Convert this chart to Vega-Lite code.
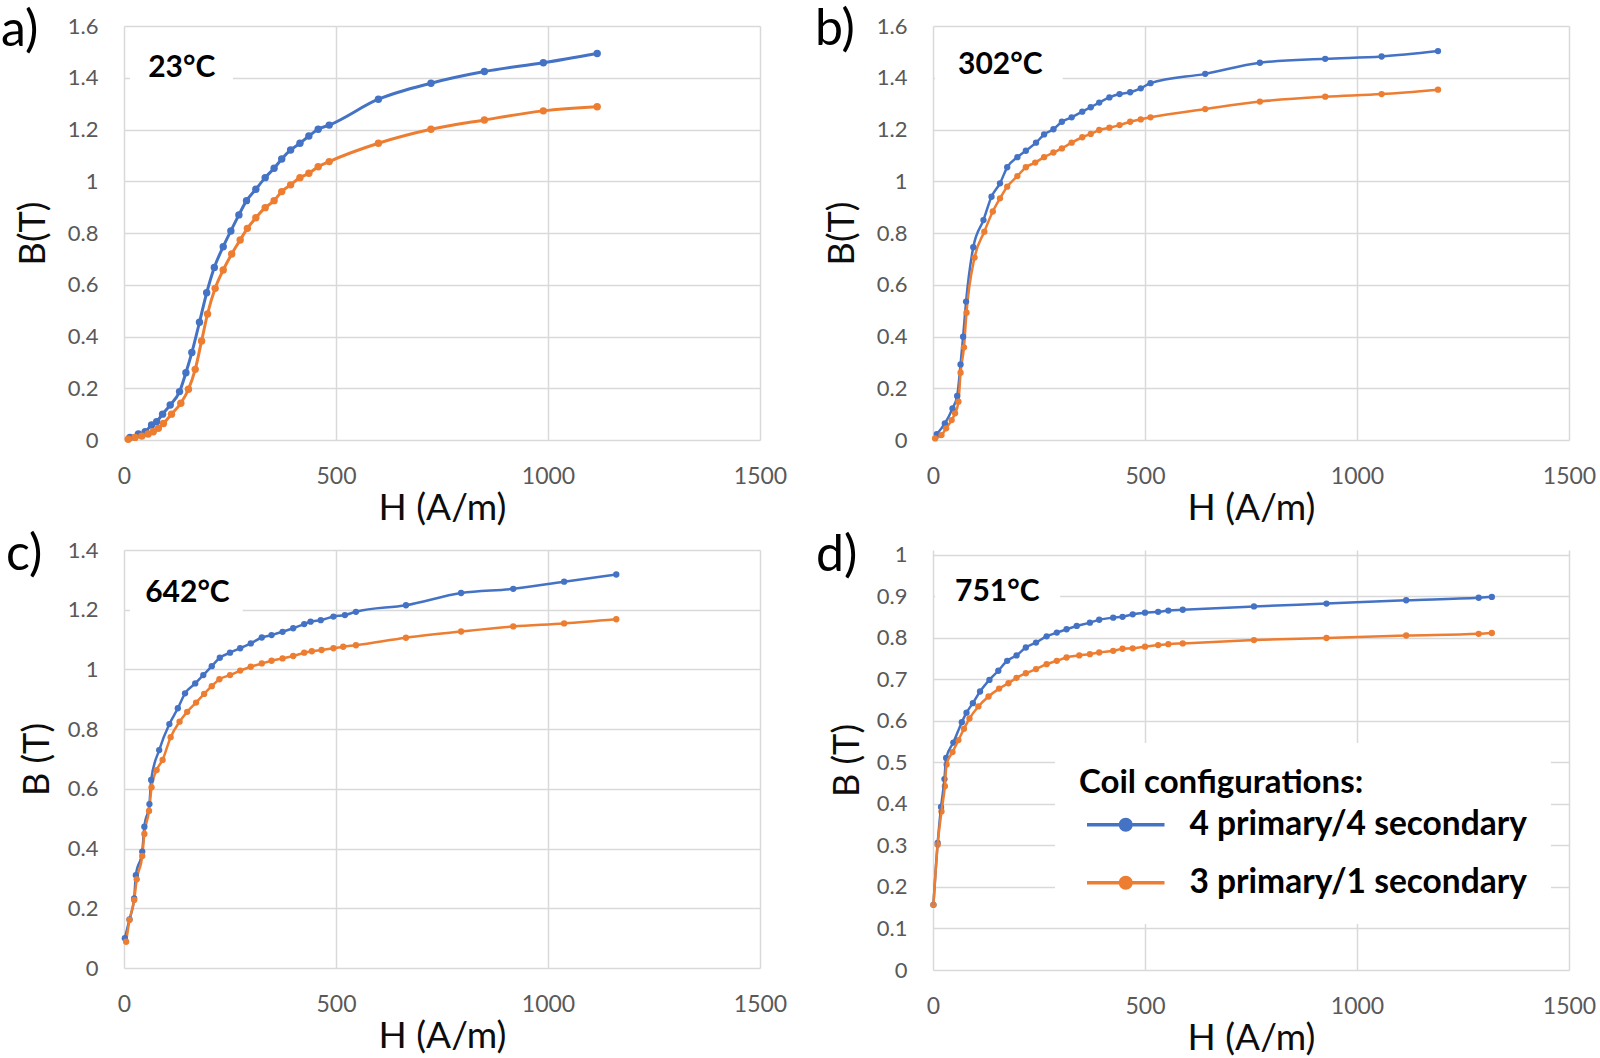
{
  "$schema": "https://vega.github.io/schema/vega-lite/v6.json",
  "autosize": {"type": "none"},
  "padding": {"left": 124, "top": 26, "right": 1476, "bottom": 1032},
  "background": "white",
  "bounds": "flush",
  "columns": 2,
  "spacing": {"row": 110, "column": 173},
  "resolve": {"legend": {"color": "independent"}},
  "datasets": {
    "bh": [
      {"panel": "a", "coil": "4 primary/4 secondary", "H": 14, "B": 0.01},
      {"panel": "a", "coil": "4 primary/4 secondary", "H": 34, "B": 0.023},
      {"panel": "a", "coil": "4 primary/4 secondary", "H": 50, "B": 0.032},
      {"panel": "a", "coil": "4 primary/4 secondary", "H": 65, "B": 0.058},
      {"panel": "a", "coil": "4 primary/4 secondary", "H": 77, "B": 0.071},
      {"panel": "a", "coil": "4 primary/4 secondary", "H": 91, "B": 0.1},
      {"panel": "a", "coil": "4 primary/4 secondary", "H": 109, "B": 0.135},
      {"panel": "a", "coil": "4 primary/4 secondary", "H": 131, "B": 0.187},
      {"panel": "a", "coil": "4 primary/4 secondary", "H": 146, "B": 0.26},
      {"panel": "a", "coil": "4 primary/4 secondary", "H": 160, "B": 0.338},
      {"panel": "a", "coil": "4 primary/4 secondary", "H": 178, "B": 0.455},
      {"panel": "a", "coil": "4 primary/4 secondary", "H": 195, "B": 0.569},
      {"panel": "a", "coil": "4 primary/4 secondary", "H": 213, "B": 0.667},
      {"panel": "a", "coil": "4 primary/4 secondary", "H": 234, "B": 0.747},
      {"panel": "a", "coil": "4 primary/4 secondary", "H": 252, "B": 0.808},
      {"panel": "a", "coil": "4 primary/4 secondary", "H": 271, "B": 0.87},
      {"panel": "a", "coil": "4 primary/4 secondary", "H": 289, "B": 0.925},
      {"panel": "a", "coil": "4 primary/4 secondary", "H": 311, "B": 0.969},
      {"panel": "a", "coil": "4 primary/4 secondary", "H": 333, "B": 1.014},
      {"panel": "a", "coil": "4 primary/4 secondary", "H": 354, "B": 1.05},
      {"panel": "a", "coil": "4 primary/4 secondary", "H": 372, "B": 1.086},
      {"panel": "a", "coil": "4 primary/4 secondary", "H": 393, "B": 1.121},
      {"panel": "a", "coil": "4 primary/4 secondary", "H": 415, "B": 1.147},
      {"panel": "a", "coil": "4 primary/4 secondary", "H": 436, "B": 1.175},
      {"panel": "a", "coil": "4 primary/4 secondary", "H": 458, "B": 1.201},
      {"panel": "a", "coil": "4 primary/4 secondary", "H": 484, "B": 1.217},
      {"panel": "a", "coil": "4 primary/4 secondary", "H": 600, "B": 1.317},
      {"panel": "a", "coil": "4 primary/4 secondary", "H": 724, "B": 1.379},
      {"panel": "a", "coil": "4 primary/4 secondary", "H": 850, "B": 1.424},
      {"panel": "a", "coil": "4 primary/4 secondary", "H": 989, "B": 1.458},
      {"panel": "a", "coil": "4 primary/4 secondary", "H": 1116, "B": 1.494},
      {"panel": "a", "coil": "3 primary/1 secondary", "H": 10, "B": 0.003},
      {"panel": "a", "coil": "3 primary/1 secondary", "H": 26, "B": 0.01},
      {"panel": "a", "coil": "3 primary/1 secondary", "H": 42, "B": 0.015},
      {"panel": "a", "coil": "3 primary/1 secondary", "H": 57, "B": 0.023},
      {"panel": "a", "coil": "3 primary/1 secondary", "H": 69, "B": 0.032},
      {"panel": "a", "coil": "3 primary/1 secondary", "H": 81, "B": 0.045},
      {"panel": "a", "coil": "3 primary/1 secondary", "H": 93, "B": 0.064},
      {"panel": "a", "coil": "3 primary/1 secondary", "H": 112, "B": 0.1},
      {"panel": "a", "coil": "3 primary/1 secondary", "H": 134, "B": 0.142},
      {"panel": "a", "coil": "3 primary/1 secondary", "H": 152, "B": 0.196},
      {"panel": "a", "coil": "3 primary/1 secondary", "H": 168, "B": 0.273},
      {"panel": "a", "coil": "3 primary/1 secondary", "H": 183, "B": 0.383},
      {"panel": "a", "coil": "3 primary/1 secondary", "H": 197, "B": 0.487},
      {"panel": "a", "coil": "3 primary/1 secondary", "H": 215, "B": 0.586},
      {"panel": "a", "coil": "3 primary/1 secondary", "H": 234, "B": 0.657},
      {"panel": "a", "coil": "3 primary/1 secondary", "H": 254, "B": 0.719},
      {"panel": "a", "coil": "3 primary/1 secondary", "H": 274, "B": 0.773},
      {"panel": "a", "coil": "3 primary/1 secondary", "H": 291, "B": 0.818},
      {"panel": "a", "coil": "3 primary/1 secondary", "H": 311, "B": 0.859},
      {"panel": "a", "coil": "3 primary/1 secondary", "H": 333, "B": 0.898},
      {"panel": "a", "coil": "3 primary/1 secondary", "H": 354, "B": 0.925},
      {"panel": "a", "coil": "3 primary/1 secondary", "H": 372, "B": 0.96},
      {"panel": "a", "coil": "3 primary/1 secondary", "H": 393, "B": 0.986},
      {"panel": "a", "coil": "3 primary/1 secondary", "H": 415, "B": 1.014},
      {"panel": "a", "coil": "3 primary/1 secondary", "H": 436, "B": 1.031},
      {"panel": "a", "coil": "3 primary/1 secondary", "H": 458, "B": 1.056},
      {"panel": "a", "coil": "3 primary/1 secondary", "H": 484, "B": 1.076},
      {"panel": "a", "coil": "3 primary/1 secondary", "H": 600, "B": 1.147},
      {"panel": "a", "coil": "3 primary/1 secondary", "H": 724, "B": 1.201},
      {"panel": "a", "coil": "3 primary/1 secondary", "H": 850, "B": 1.237},
      {"panel": "a", "coil": "3 primary/1 secondary", "H": 989, "B": 1.272},
      {"panel": "a", "coil": "3 primary/1 secondary", "H": 1116, "B": 1.288},

      {"panel": "b", "coil": "4 primary/4 secondary", "H": 9, "B": 0.023},
      {"panel": "b", "coil": "4 primary/4 secondary", "H": 28, "B": 0.064},
      {"panel": "b", "coil": "4 primary/4 secondary", "H": 46, "B": 0.122},
      {"panel": "b", "coil": "4 primary/4 secondary", "H": 57, "B": 0.17},
      {"panel": "b", "coil": "4 primary/4 secondary", "H": 65, "B": 0.292},
      {"panel": "b", "coil": "4 primary/4 secondary", "H": 71, "B": 0.399},
      {"panel": "b", "coil": "4 primary/4 secondary", "H": 78, "B": 0.535},
      {"panel": "b", "coil": "4 primary/4 secondary", "H": 95, "B": 0.745},
      {"panel": "b", "coil": "4 primary/4 secondary", "H": 119, "B": 0.85},
      {"panel": "b", "coil": "4 primary/4 secondary", "H": 138, "B": 0.94},
      {"panel": "b", "coil": "4 primary/4 secondary", "H": 158, "B": 0.992},
      {"panel": "b", "coil": "4 primary/4 secondary", "H": 175, "B": 1.054},
      {"panel": "b", "coil": "4 primary/4 secondary", "H": 199, "B": 1.093},
      {"panel": "b", "coil": "4 primary/4 secondary", "H": 219, "B": 1.118},
      {"panel": "b", "coil": "4 primary/4 secondary", "H": 243, "B": 1.149},
      {"panel": "b", "coil": "4 primary/4 secondary", "H": 262, "B": 1.181},
      {"panel": "b", "coil": "4 primary/4 secondary", "H": 284, "B": 1.201},
      {"panel": "b", "coil": "4 primary/4 secondary", "H": 304, "B": 1.23},
      {"panel": "b", "coil": "4 primary/4 secondary", "H": 327, "B": 1.247},
      {"panel": "b", "coil": "4 primary/4 secondary", "H": 352, "B": 1.269},
      {"panel": "b", "coil": "4 primary/4 secondary", "H": 372, "B": 1.286},
      {"panel": "b", "coil": "4 primary/4 secondary", "H": 392, "B": 1.304},
      {"panel": "b", "coil": "4 primary/4 secondary", "H": 416, "B": 1.324},
      {"panel": "b", "coil": "4 primary/4 secondary", "H": 440, "B": 1.337},
      {"panel": "b", "coil": "4 primary/4 secondary", "H": 465, "B": 1.344},
      {"panel": "b", "coil": "4 primary/4 secondary", "H": 490, "B": 1.359},
      {"panel": "b", "coil": "4 primary/4 secondary", "H": 513, "B": 1.379},
      {"panel": "b", "coil": "4 primary/4 secondary", "H": 642, "B": 1.415},
      {"panel": "b", "coil": "4 primary/4 secondary", "H": 771, "B": 1.458},
      {"panel": "b", "coil": "4 primary/4 secondary", "H": 925, "B": 1.473},
      {"panel": "b", "coil": "4 primary/4 secondary", "H": 1058, "B": 1.482},
      {"panel": "b", "coil": "4 primary/4 secondary", "H": 1191, "B": 1.503},
      {"panel": "b", "coil": "3 primary/1 secondary", "H": 5, "B": 0.006},
      {"panel": "b", "coil": "3 primary/1 secondary", "H": 20, "B": 0.019},
      {"panel": "b", "coil": "3 primary/1 secondary", "H": 31, "B": 0.045},
      {"panel": "b", "coil": "3 primary/1 secondary", "H": 44, "B": 0.077},
      {"panel": "b", "coil": "3 primary/1 secondary", "H": 52, "B": 0.103},
      {"panel": "b", "coil": "3 primary/1 secondary", "H": 60, "B": 0.148},
      {"panel": "b", "coil": "3 primary/1 secondary", "H": 65, "B": 0.26},
      {"panel": "b", "coil": "3 primary/1 secondary", "H": 73, "B": 0.358},
      {"panel": "b", "coil": "3 primary/1 secondary", "H": 79, "B": 0.492},
      {"panel": "b", "coil": "3 primary/1 secondary", "H": 98, "B": 0.705},
      {"panel": "b", "coil": "3 primary/1 secondary", "H": 121, "B": 0.805},
      {"panel": "b", "coil": "3 primary/1 secondary", "H": 141, "B": 0.883},
      {"panel": "b", "coil": "3 primary/1 secondary", "H": 158, "B": 0.934},
      {"panel": "b", "coil": "3 primary/1 secondary", "H": 175, "B": 0.979},
      {"panel": "b", "coil": "3 primary/1 secondary", "H": 199, "B": 1.02},
      {"panel": "b", "coil": "3 primary/1 secondary", "H": 219, "B": 1.054},
      {"panel": "b", "coil": "3 primary/1 secondary", "H": 241, "B": 1.072},
      {"panel": "b", "coil": "3 primary/1 secondary", "H": 262, "B": 1.093},
      {"panel": "b", "coil": "3 primary/1 secondary", "H": 284, "B": 1.111},
      {"panel": "b", "coil": "3 primary/1 secondary", "H": 304, "B": 1.127},
      {"panel": "b", "coil": "3 primary/1 secondary", "H": 327, "B": 1.149},
      {"panel": "b", "coil": "3 primary/1 secondary", "H": 352, "B": 1.17},
      {"panel": "b", "coil": "3 primary/1 secondary", "H": 372, "B": 1.183},
      {"panel": "b", "coil": "3 primary/1 secondary", "H": 392, "B": 1.198},
      {"panel": "b", "coil": "3 primary/1 secondary", "H": 416, "B": 1.207},
      {"panel": "b", "coil": "3 primary/1 secondary", "H": 440, "B": 1.217},
      {"panel": "b", "coil": "3 primary/1 secondary", "H": 465, "B": 1.23},
      {"panel": "b", "coil": "3 primary/1 secondary", "H": 490, "B": 1.239},
      {"panel": "b", "coil": "3 primary/1 secondary", "H": 513, "B": 1.247},
      {"panel": "b", "coil": "3 primary/1 secondary", "H": 642, "B": 1.279},
      {"panel": "b", "coil": "3 primary/1 secondary", "H": 771, "B": 1.308},
      {"panel": "b", "coil": "3 primary/1 secondary", "H": 925, "B": 1.327},
      {"panel": "b", "coil": "3 primary/1 secondary", "H": 1058, "B": 1.337},
      {"panel": "b", "coil": "3 primary/1 secondary", "H": 1191, "B": 1.354},

      {"panel": "c", "coil": "4 primary/4 secondary", "H": 2, "B": 0.1},
      {"panel": "c", "coil": "4 primary/4 secondary", "H": 13, "B": 0.163},
      {"panel": "c", "coil": "4 primary/4 secondary", "H": 24, "B": 0.233},
      {"panel": "c", "coil": "4 primary/4 secondary", "H": 28, "B": 0.311},
      {"panel": "c", "coil": "4 primary/4 secondary", "H": 43, "B": 0.39},
      {"panel": "c", "coil": "4 primary/4 secondary", "H": 48, "B": 0.473},
      {"panel": "c", "coil": "4 primary/4 secondary", "H": 60, "B": 0.549},
      {"panel": "c", "coil": "4 primary/4 secondary", "H": 64, "B": 0.63},
      {"panel": "c", "coil": "4 primary/4 secondary", "H": 83, "B": 0.73},
      {"panel": "c", "coil": "4 primary/4 secondary", "H": 107, "B": 0.817},
      {"panel": "c", "coil": "4 primary/4 secondary", "H": 127, "B": 0.87},
      {"panel": "c", "coil": "4 primary/4 secondary", "H": 144, "B": 0.92},
      {"panel": "c", "coil": "4 primary/4 secondary", "H": 168, "B": 0.953},
      {"panel": "c", "coil": "4 primary/4 secondary", "H": 187, "B": 0.981},
      {"panel": "c", "coil": "4 primary/4 secondary", "H": 207, "B": 1.011},
      {"panel": "c", "coil": "4 primary/4 secondary", "H": 226, "B": 1.039},
      {"panel": "c", "coil": "4 primary/4 secondary", "H": 250, "B": 1.056},
      {"panel": "c", "coil": "4 primary/4 secondary", "H": 274, "B": 1.071},
      {"panel": "c", "coil": "4 primary/4 secondary", "H": 299, "B": 1.087},
      {"panel": "c", "coil": "4 primary/4 secondary", "H": 325, "B": 1.107},
      {"panel": "c", "coil": "4 primary/4 secondary", "H": 348, "B": 1.115},
      {"panel": "c", "coil": "4 primary/4 secondary", "H": 374, "B": 1.126},
      {"panel": "c", "coil": "4 primary/4 secondary", "H": 399, "B": 1.138},
      {"panel": "c", "coil": "4 primary/4 secondary", "H": 425, "B": 1.152},
      {"panel": "c", "coil": "4 primary/4 secondary", "H": 440, "B": 1.16},
      {"panel": "c", "coil": "4 primary/4 secondary", "H": 464, "B": 1.165},
      {"panel": "c", "coil": "4 primary/4 secondary", "H": 494, "B": 1.177},
      {"panel": "c", "coil": "4 primary/4 secondary", "H": 521, "B": 1.182},
      {"panel": "c", "coil": "4 primary/4 secondary", "H": 547, "B": 1.193},
      {"panel": "c", "coil": "4 primary/4 secondary", "H": 665, "B": 1.215},
      {"panel": "c", "coil": "4 primary/4 secondary", "H": 795, "B": 1.256},
      {"panel": "c", "coil": "4 primary/4 secondary", "H": 918, "B": 1.27},
      {"panel": "c", "coil": "4 primary/4 secondary", "H": 1038, "B": 1.294},
      {"panel": "c", "coil": "4 primary/4 secondary", "H": 1161, "B": 1.318},
      {"panel": "c", "coil": "3 primary/1 secondary", "H": 5, "B": 0.088},
      {"panel": "c", "coil": "3 primary/1 secondary", "H": 13, "B": 0.161},
      {"panel": "c", "coil": "3 primary/1 secondary", "H": 24, "B": 0.228},
      {"panel": "c", "coil": "3 primary/1 secondary", "H": 30, "B": 0.297},
      {"panel": "c", "coil": "3 primary/1 secondary", "H": 43, "B": 0.375},
      {"panel": "c", "coil": "3 primary/1 secondary", "H": 48, "B": 0.449},
      {"panel": "c", "coil": "3 primary/1 secondary", "H": 59, "B": 0.526},
      {"panel": "c", "coil": "3 primary/1 secondary", "H": 65, "B": 0.605},
      {"panel": "c", "coil": "3 primary/1 secondary", "H": 77, "B": 0.663},
      {"panel": "c", "coil": "3 primary/1 secondary", "H": 91, "B": 0.697},
      {"panel": "c", "coil": "3 primary/1 secondary", "H": 110, "B": 0.773},
      {"panel": "c", "coil": "3 primary/1 secondary", "H": 131, "B": 0.825},
      {"panel": "c", "coil": "3 primary/1 secondary", "H": 149, "B": 0.858},
      {"panel": "c", "coil": "3 primary/1 secondary", "H": 170, "B": 0.889},
      {"panel": "c", "coil": "3 primary/1 secondary", "H": 189, "B": 0.918},
      {"panel": "c", "coil": "3 primary/1 secondary", "H": 207, "B": 0.944},
      {"panel": "c", "coil": "3 primary/1 secondary", "H": 225, "B": 0.967},
      {"panel": "c", "coil": "3 primary/1 secondary", "H": 250, "B": 0.981},
      {"panel": "c", "coil": "3 primary/1 secondary", "H": 274, "B": 0.996},
      {"panel": "c", "coil": "3 primary/1 secondary", "H": 299, "B": 1.009},
      {"panel": "c", "coil": "3 primary/1 secondary", "H": 325, "B": 1.02},
      {"panel": "c", "coil": "3 primary/1 secondary", "H": 348, "B": 1.029},
      {"panel": "c", "coil": "3 primary/1 secondary", "H": 374, "B": 1.037},
      {"panel": "c", "coil": "3 primary/1 secondary", "H": 399, "B": 1.045},
      {"panel": "c", "coil": "3 primary/1 secondary", "H": 425, "B": 1.056},
      {"panel": "c", "coil": "3 primary/1 secondary", "H": 443, "B": 1.061},
      {"panel": "c", "coil": "3 primary/1 secondary", "H": 466, "B": 1.065},
      {"panel": "c", "coil": "3 primary/1 secondary", "H": 494, "B": 1.071},
      {"panel": "c", "coil": "3 primary/1 secondary", "H": 517, "B": 1.076},
      {"panel": "c", "coil": "3 primary/1 secondary", "H": 547, "B": 1.081},
      {"panel": "c", "coil": "3 primary/1 secondary", "H": 665, "B": 1.106},
      {"panel": "c", "coil": "3 primary/1 secondary", "H": 795, "B": 1.127},
      {"panel": "c", "coil": "3 primary/1 secondary", "H": 918, "B": 1.144},
      {"panel": "c", "coil": "3 primary/1 secondary", "H": 1038, "B": 1.154},
      {"panel": "c", "coil": "3 primary/1 secondary", "H": 1161, "B": 1.168},

      {"panel": "d", "coil": "4 primary/4 secondary", "H": 1, "B": 0.157},
      {"panel": "d", "coil": "4 primary/4 secondary", "H": 11, "B": 0.306},
      {"panel": "d", "coil": "4 primary/4 secondary", "H": 19, "B": 0.393},
      {"panel": "d", "coil": "4 primary/4 secondary", "H": 27, "B": 0.46},
      {"panel": "d", "coil": "4 primary/4 secondary", "H": 31, "B": 0.511},
      {"panel": "d", "coil": "4 primary/4 secondary", "H": 48, "B": 0.548},
      {"panel": "d", "coil": "4 primary/4 secondary", "H": 68, "B": 0.597},
      {"panel": "d", "coil": "4 primary/4 secondary", "H": 79, "B": 0.62},
      {"panel": "d", "coil": "4 primary/4 secondary", "H": 94, "B": 0.643},
      {"panel": "d", "coil": "4 primary/4 secondary", "H": 111, "B": 0.671},
      {"panel": "d", "coil": "4 primary/4 secondary", "H": 133, "B": 0.699},
      {"panel": "d", "coil": "4 primary/4 secondary", "H": 154, "B": 0.721},
      {"panel": "d", "coil": "4 primary/4 secondary", "H": 175, "B": 0.745},
      {"panel": "d", "coil": "4 primary/4 secondary", "H": 197, "B": 0.758},
      {"panel": "d", "coil": "4 primary/4 secondary", "H": 219, "B": 0.777},
      {"panel": "d", "coil": "4 primary/4 secondary", "H": 243, "B": 0.789},
      {"panel": "d", "coil": "4 primary/4 secondary", "H": 268, "B": 0.804},
      {"panel": "d", "coil": "4 primary/4 secondary", "H": 292, "B": 0.813},
      {"panel": "d", "coil": "4 primary/4 secondary", "H": 315, "B": 0.821},
      {"panel": "d", "coil": "4 primary/4 secondary", "H": 339, "B": 0.829},
      {"panel": "d", "coil": "4 primary/4 secondary", "H": 370, "B": 0.837},
      {"panel": "d", "coil": "4 primary/4 secondary", "H": 392, "B": 0.844},
      {"panel": "d", "coil": "4 primary/4 secondary", "H": 425, "B": 0.849},
      {"panel": "d", "coil": "4 primary/4 secondary", "H": 447, "B": 0.851},
      {"panel": "d", "coil": "4 primary/4 secondary", "H": 471, "B": 0.857},
      {"panel": "d", "coil": "4 primary/4 secondary", "H": 500, "B": 0.861},
      {"panel": "d", "coil": "4 primary/4 secondary", "H": 531, "B": 0.863},
      {"panel": "d", "coil": "4 primary/4 secondary", "H": 555, "B": 0.866},
      {"panel": "d", "coil": "4 primary/4 secondary", "H": 589, "B": 0.868},
      {"panel": "d", "coil": "4 primary/4 secondary", "H": 757, "B": 0.876},
      {"panel": "d", "coil": "4 primary/4 secondary", "H": 928, "B": 0.883},
      {"panel": "d", "coil": "4 primary/4 secondary", "H": 1116, "B": 0.891},
      {"panel": "d", "coil": "4 primary/4 secondary", "H": 1287, "B": 0.897},
      {"panel": "d", "coil": "4 primary/4 secondary", "H": 1318, "B": 0.899},
      {"panel": "d", "coil": "3 primary/1 secondary", "H": 1, "B": 0.157},
      {"panel": "d", "coil": "3 primary/1 secondary", "H": 11, "B": 0.302},
      {"panel": "d", "coil": "3 primary/1 secondary", "H": 20, "B": 0.382},
      {"panel": "d", "coil": "3 primary/1 secondary", "H": 28, "B": 0.443},
      {"panel": "d", "coil": "3 primary/1 secondary", "H": 32, "B": 0.495},
      {"panel": "d", "coil": "3 primary/1 secondary", "H": 46, "B": 0.525},
      {"panel": "d", "coil": "3 primary/1 secondary", "H": 60, "B": 0.554},
      {"panel": "d", "coil": "3 primary/1 secondary", "H": 73, "B": 0.581},
      {"panel": "d", "coil": "3 primary/1 secondary", "H": 86, "B": 0.606},
      {"panel": "d", "coil": "3 primary/1 secondary", "H": 107, "B": 0.635},
      {"panel": "d", "coil": "3 primary/1 secondary", "H": 131, "B": 0.659},
      {"panel": "d", "coil": "3 primary/1 secondary", "H": 156, "B": 0.678},
      {"panel": "d", "coil": "3 primary/1 secondary", "H": 178, "B": 0.691},
      {"panel": "d", "coil": "3 primary/1 secondary", "H": 197, "B": 0.704},
      {"panel": "d", "coil": "3 primary/1 secondary", "H": 219, "B": 0.715},
      {"panel": "d", "coil": "3 primary/1 secondary", "H": 243, "B": 0.725},
      {"panel": "d", "coil": "3 primary/1 secondary", "H": 268, "B": 0.737},
      {"panel": "d", "coil": "3 primary/1 secondary", "H": 292, "B": 0.745},
      {"panel": "d", "coil": "3 primary/1 secondary", "H": 315, "B": 0.753},
      {"panel": "d", "coil": "3 primary/1 secondary", "H": 345, "B": 0.758},
      {"panel": "d", "coil": "3 primary/1 secondary", "H": 370, "B": 0.761},
      {"panel": "d", "coil": "3 primary/1 secondary", "H": 392, "B": 0.765},
      {"panel": "d", "coil": "3 primary/1 secondary", "H": 425, "B": 0.769},
      {"panel": "d", "coil": "3 primary/1 secondary", "H": 447, "B": 0.774},
      {"panel": "d", "coil": "3 primary/1 secondary", "H": 471, "B": 0.775},
      {"panel": "d", "coil": "3 primary/1 secondary", "H": 500, "B": 0.779},
      {"panel": "d", "coil": "3 primary/1 secondary", "H": 531, "B": 0.783},
      {"panel": "d", "coil": "3 primary/1 secondary", "H": 555, "B": 0.785},
      {"panel": "d", "coil": "3 primary/1 secondary", "H": 589, "B": 0.787},
      {"panel": "d", "coil": "3 primary/1 secondary", "H": 757, "B": 0.795},
      {"panel": "d", "coil": "3 primary/1 secondary", "H": 928, "B": 0.8},
      {"panel": "d", "coil": "3 primary/1 secondary", "H": 1116, "B": 0.806},
      {"panel": "d", "coil": "3 primary/1 secondary", "H": 1287, "B": 0.81},
      {"panel": "d", "coil": "3 primary/1 secondary", "H": 1318, "B": 0.812}
    ]
  },
  "concat": [
    {
      "width": 636,
      "height": 414,
      "title": {"text": "a)", "dx": -123, "dy": 45},
      "layer": [
        {
          "data": {"name": "bh"},
          "transform": [{"filter": "datum.panel === 'a'"}],
          "mark": {"type": "line", "strokeWidth": 3, "interpolate": "monotone"},
          "encoding": {
            "x": {"field": "H", "type": "quantitative", "scale": {"domain": [0, 1500], "nice": false}, "axis": {"title": "H (A/m)", "values": [0, 500, 1000, 1500], "format": "d"}},
            "y": {"field": "B", "type": "quantitative", "scale": {"domain": [0, 1.6], "nice": false}, "axis": {"title": "B(T)", "titlePadding": 15, "values": [0, 0.2, 0.4, 0.6, 0.8, 1, 1.2, 1.4, 1.6], "format": "~g"}},
            "color": {"field": "coil", "type": "nominal", "scale": {"domain": ["4 primary/4 secondary", "3 primary/1 secondary"], "range": ["#4472c4", "#ed7d31"]}, "legend": null}
          }
        },
        {
          "data": {"name": "bh"},
          "transform": [{"filter": "datum.panel === 'a'"}],
          "mark": {"type": "point", "filled": true, "size": 55, "opacity": 1},
          "encoding": {
            "x": {"field": "H", "type": "quantitative"},
            "y": {"field": "B", "type": "quantitative"},
            "color": {"field": "coil", "type": "nominal", "scale": {"domain": ["4 primary/4 secondary", "3 primary/1 secondary"], "range": ["#4472c4", "#ed7d31"]}, "legend": null}
          }
        },
        {
          "data": {"values": [{}]},
          "mark": {"type": "rect", "fill": "white"},
          "encoding": {
            "x": {"datum": 14, "type": "quantitative"},
            "x2": {"datum": 257},
            "y": {"datum": 1.33, "type": "quantitative"},
            "y2": {"datum": 1.52}
          }
        },
        {
          "data": {"values": [{}]},
          "mark": {"type": "text", "text": "23°C", "fontSize": 30, "fontWeight": "bold", "align": "left", "baseline": "alphabetic", "color": "#000000"},
          "encoding": {
            "x": {"datum": 57, "type": "quantitative"},
            "y": {"datum": 1.403, "type": "quantitative"}
          }
        }
      ]
    },
    {
      "width": 636,
      "height": 414,
      "title": {"text": "b)", "dx": -118, "dy": 44},
      "layer": [
        {
          "data": {"name": "bh"},
          "transform": [{"filter": "datum.panel === 'b'"}],
          "mark": {"type": "line", "strokeWidth": 2.5, "interpolate": "monotone"},
          "encoding": {
            "x": {"field": "H", "type": "quantitative", "scale": {"domain": [0, 1500], "nice": false}, "axis": {"title": "H (A/m)", "values": [0, 500, 1000, 1500], "format": "d"}},
            "y": {"field": "B", "type": "quantitative", "scale": {"domain": [0, 1.6], "nice": false}, "axis": {"title": "B(T)", "titlePadding": 15, "values": [0, 0.2, 0.4, 0.6, 0.8, 1, 1.2, 1.4, 1.6], "format": "~g"}},
            "color": {"field": "coil", "type": "nominal", "scale": {"domain": ["4 primary/4 secondary", "3 primary/1 secondary"], "range": ["#4472c4", "#ed7d31"]}, "legend": null}
          }
        },
        {
          "data": {"name": "bh"},
          "transform": [{"filter": "datum.panel === 'b'"}],
          "mark": {"type": "point", "filled": true, "size": 40, "opacity": 1},
          "encoding": {
            "x": {"field": "H", "type": "quantitative"},
            "y": {"field": "B", "type": "quantitative"},
            "color": {"field": "coil", "type": "nominal", "scale": {"domain": ["4 primary/4 secondary", "3 primary/1 secondary"], "range": ["#4472c4", "#ed7d31"]}, "legend": null}
          }
        },
        {
          "data": {"values": [{}]},
          "mark": {"type": "rect", "fill": "white"},
          "encoding": {
            "x": {"datum": 5, "type": "quantitative"},
            "x2": {"datum": 306},
            "y": {"datum": 1.33, "type": "quantitative"},
            "y2": {"datum": 1.52}
          }
        },
        {
          "data": {"values": [{}]},
          "mark": {"type": "text", "text": "302°C", "fontSize": 30, "fontWeight": "bold", "align": "left", "baseline": "alphabetic", "color": "#000000"},
          "encoding": {
            "x": {"datum": 59, "type": "quantitative"},
            "y": {"datum": 1.415, "type": "quantitative"}
          }
        }
      ]
    },
    {
      "width": 636,
      "height": 418,
      "title": {"text": "c)", "dx": -118, "dy": 45},
      "layer": [
        {
          "data": {"name": "bh"},
          "transform": [{"filter": "datum.panel === 'c'"}],
          "mark": {"type": "line", "strokeWidth": 2.5, "interpolate": "monotone"},
          "encoding": {
            "x": {"field": "H", "type": "quantitative", "scale": {"domain": [0, 1500], "nice": false}, "axis": {"title": "H (A/m)", "values": [0, 500, 1000, 1500], "format": "d"}},
            "y": {"field": "B", "type": "quantitative", "scale": {"domain": [0, 1.4], "nice": false}, "axis": {"title": "B (T)", "titlePadding": 11, "values": [0, 0.2, 0.4, 0.6, 0.8, 1, 1.2, 1.4], "format": "~g"}},
            "color": {"field": "coil", "type": "nominal", "scale": {"domain": ["4 primary/4 secondary", "3 primary/1 secondary"], "range": ["#4472c4", "#ed7d31"]}, "legend": null}
          }
        },
        {
          "data": {"name": "bh"},
          "transform": [{"filter": "datum.panel === 'c'"}],
          "mark": {"type": "point", "filled": true, "size": 40, "opacity": 1},
          "encoding": {
            "x": {"field": "H", "type": "quantitative"},
            "y": {"field": "B", "type": "quantitative"},
            "color": {"field": "coil", "type": "nominal", "scale": {"domain": ["4 primary/4 secondary", "3 primary/1 secondary"], "range": ["#4472c4", "#ed7d31"]}, "legend": null}
          }
        },
        {
          "data": {"values": [{}]},
          "mark": {"type": "rect", "fill": "white"},
          "encoding": {
            "x": {"datum": 14, "type": "quantitative"},
            "x2": {"datum": 280},
            "y": {"datum": 1.17, "type": "quantitative"},
            "y2": {"datum": 1.33}
          }
        },
        {
          "data": {"values": [{}]},
          "mark": {"type": "text", "text": "642°C", "fontSize": 30, "fontWeight": "bold", "align": "left", "baseline": "alphabetic", "color": "#000000"},
          "encoding": {
            "x": {"datum": 50, "type": "quantitative"},
            "y": {"datum": 1.227, "type": "quantitative"}
          }
        }
      ]
    },
    {
      "width": 636,
      "height": 420,
      "title": {"text": "d)", "dx": -117, "dy": 41},
      "layer": [
        {
          "data": {"name": "bh"},
          "transform": [{"filter": "datum.panel === 'd'"}],
          "mark": {"type": "point", "filled": true, "size": 40, "opacity": 1},
          "encoding": {
            "x": {"field": "H", "type": "quantitative", "scale": {"domain": [0, 1500], "nice": false}, "axis": {"title": "H (A/m)", "values": [0, 500, 1000, 1500], "format": "d"}},
            "y": {"field": "B", "type": "quantitative", "scale": {"domain": [0, 1.012], "nice": false}, "axis": {"title": "B (T)", "titlePadding": 10, "values": [0, 0.1, 0.2, 0.3, 0.4, 0.5, 0.6, 0.7, 0.8, 0.9, 1], "format": "~g"}},
            "color": {
              "field": "coil",
              "type": "nominal",
              "scale": {"domain": ["4 primary/4 secondary", "3 primary/1 secondary"], "range": ["#4472c4", "#ed7d31"]},
              "legend": {
                "title": "Coil configurations:",
                "orient": "none",
                "legendX": 122,
                "legendY": 193,
                "direction": "vertical",
                "fillColor": "white",
                "padding": 24,
                "titleFont": "Lato",
                "titleFontSize": 33,
                "titleFontWeight": "bold",
                "titleColor": "#000000",
                "titlePadding": 8,
                "titleLimit": 0,
                "labelFont": "Lato",
                "labelFontSize": 33.5,
                "labelFontWeight": "bold",
                "labelColor": "#000000",
                "labelLimit": 0,
                "symbolType": "M-2.5,-0.113H2.5V0.113H-2.5Z M0.45,0A0.45,0.45,0,1,1,-0.45,0A0.45,0.45,0,1,1,0.45,0Z",
                "symbolSize": 961,
                "symbolStrokeWidth": 0,
                "symbolOpacity": 1,
                "symbolOffset": 30,
                "labelOffset": 47,
                "rowPadding": 23
              }
            }
          }
        },
        {
          "data": {"name": "bh"},
          "transform": [{"filter": "datum.panel === 'd'"}],
          "mark": {"type": "line", "strokeWidth": 2.5, "interpolate": "monotone"},
          "encoding": {
            "x": {"field": "H", "type": "quantitative"},
            "y": {"field": "B", "type": "quantitative"},
            "color": {
              "field": "coil",
              "type": "nominal",
              "scale": {"domain": ["4 primary/4 secondary", "3 primary/1 secondary"], "range": ["#4472c4", "#ed7d31"]},
              "legend": {
                "title": "Coil configurations:",
                "orient": "none",
                "legendX": 122,
                "legendY": 193,
                "direction": "vertical",
                "fillColor": "white",
                "padding": 24,
                "titleFont": "Lato",
                "titleFontSize": 33,
                "titleFontWeight": "bold",
                "titleColor": "#000000",
                "titlePadding": 8,
                "titleLimit": 0,
                "labelFont": "Lato",
                "labelFontSize": 33.5,
                "labelFontWeight": "bold",
                "labelColor": "#000000",
                "labelLimit": 0,
                "symbolType": "M-2.5,-0.113H2.5V0.113H-2.5Z M0.45,0A0.45,0.45,0,1,1,-0.45,0A0.45,0.45,0,1,1,0.45,0Z",
                "symbolSize": 961,
                "symbolStrokeWidth": 0,
                "symbolOpacity": 1,
                "symbolOffset": 30,
                "labelOffset": 47,
                "rowPadding": 23
              }
            }
          }
        },
        {
          "data": {"values": [{}]},
          "mark": {"type": "rect", "fill": "white"},
          "encoding": {
            "x": {"datum": 5, "type": "quantitative"},
            "x2": {"datum": 300},
            "y": {"datum": 0.86, "type": "quantitative"},
            "y2": {"datum": 0.96}
          }
        },
        {
          "data": {"values": [{}]},
          "mark": {"type": "text", "text": "751°C", "fontSize": 30, "fontWeight": "bold", "align": "left", "baseline": "alphabetic", "color": "#000000"},
          "encoding": {
            "x": {"datum": 52, "type": "quantitative"},
            "y": {"datum": 0.89, "type": "quantitative"}
          }
        }
      ]
    }
  ],
  "config": {
    "font": "Lato",
    "view": {"stroke": null},
    "axis": {
      "domain": false,
      "ticks": false,
      "grid": true,
      "gridColor": "#d9d9d9",
      "gridWidth": 1.5,
      "labelColor": "#595959",
      "labelFont": "Lato",
      "titleFont": "Lato",
      "titleFontWeight": "normal",
      "titleColor": "#0d0d0d",
      "titleFontSize": 36,
      "labelOverlap": false,
      "labelFlush": false,
      "labelBound": false
    },
    "axisX": {"labelFontSize": 23, "labelPadding": 25, "titlePadding": 2, "titleFontSize": 37},
    "axisY": {"labelFontSize": 22, "labelPadding": 26, "titlePadding": 10},
    "title": {
      "anchor": "start",
      "frame": "group",
      "orient": "top",
      "baseline": "alphabetic",
      "offset": 0,
      "fontSize": 50,
      "fontWeight": "normal",
      "font": "Lato",
      "color": "#000000"
    }
  }
}
